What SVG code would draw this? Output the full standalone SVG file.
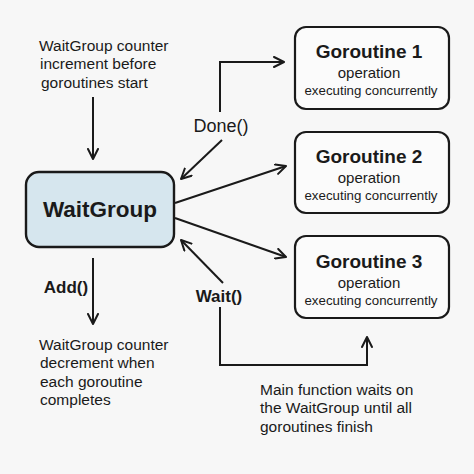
<svg xmlns="http://www.w3.org/2000/svg" width="474" height="474" viewBox="0 0 474 474">
<style>
text{font-family:"Liberation Sans",Arial,sans-serif;fill:#1a1a1a}
.body{font-size:15.5px}
.title{font-size:19px;font-weight:bold;text-anchor:middle}
.op{font-size:15px;text-anchor:middle}
.ex{font-size:13.3px;text-anchor:middle}
.gbox{fill:#fbfbfb;stroke:#1a1a1a;stroke-width:2.2}
.conn{fill:none;stroke:#1a1a1a;stroke-width:2;marker-end:url(#arr)}
</style>
<defs>
<marker id="arr" viewBox="0 0 12 12" refX="11" refY="6" markerWidth="12" markerHeight="12" markerUnits="userSpaceOnUse" orient="auto">
<path d="M1,1 L11,6 L1,11" fill="none" stroke="#1a1a1a" stroke-width="2" stroke-linecap="round" stroke-linejoin="round"/>
</marker>
</defs>
<rect width="474" height="474" fill="#f7f7f7"/>

<g id="note-increment">
<text class="body" x="39" y="51">WaitGroup counter</text>
<text class="body" x="40" y="69">increment before</text>
<text class="body" x="41" y="88">goroutines start</text>
</g>

<g id="waitgroup">
<rect x="26" y="172" width="148" height="75" rx="13" fill="#d6e6ee" stroke="#1a1a1a" stroke-width="2.4"/>
<text x="100" y="217" font-size="22.5" font-weight="bold" text-anchor="middle">WaitGroup</text>
</g>

<g id="goroutine1">
<rect class="gbox" x="295" y="27" width="154" height="82" rx="11"/>
<text class="title" x="369" y="58">Goroutine 1</text>
<text class="op" x="369" y="78">operation</text>
<text class="ex" x="371" y="95">executing concurrently</text>
</g>

<g id="goroutine2">
<rect class="gbox" x="295" y="132" width="154" height="81" rx="11"/>
<text class="title" x="369" y="163">Goroutine 2</text>
<text class="op" x="369" y="183">operation</text>
<text class="ex" x="371" y="200">executing concurrently</text>
</g>

<g id="goroutine3">
<rect class="gbox" x="295" y="236" width="154" height="82" rx="11"/>
<text class="title" x="369" y="268">Goroutine 3</text>
<text class="op" x="369" y="288">operation</text>
<text class="ex" x="371" y="305">executing concurrently</text>
</g>

<g id="note-decrement">
<text class="body" x="39" y="350">WaitGroup counter</text>
<text class="body" x="40" y="368">decrement when</text>
<text class="body" x="40" y="387">each goroutine</text>
<text class="body" x="40" y="405">completes</text>
</g>

<g id="note-main">
<text class="body" x="260" y="395">Main function waits on</text>
<text class="body" x="260" y="413">the WaitGroup until all</text>
<text class="body" x="260" y="432">goroutines finish</text>
</g>

<g id="connectors">
<path class="conn" d="M93,97 L93,159"/>
<path class="conn" d="M220,112 L220,62 L284,62"/>
<path class="conn" d="M222,140 L181,179"/>
<path class="conn" d="M175,203 L286,166"/>
<path class="conn" d="M175,218 L286,257"/>
<path class="conn" d="M223,283 L181,240"/>
<path class="conn" d="M220,307 L220,365 L367,365 L367,337"/>
<path class="conn" d="M93,258 L93,324"/>
<text x="221" y="132" font-size="18" text-anchor="middle">Done()</text>
<text x="219" y="302" font-size="17" font-weight="bold" text-anchor="middle">Wait()</text>
<text x="66" y="293" font-size="17" font-weight="bold" text-anchor="middle">Add()</text>
</g>
</svg>
